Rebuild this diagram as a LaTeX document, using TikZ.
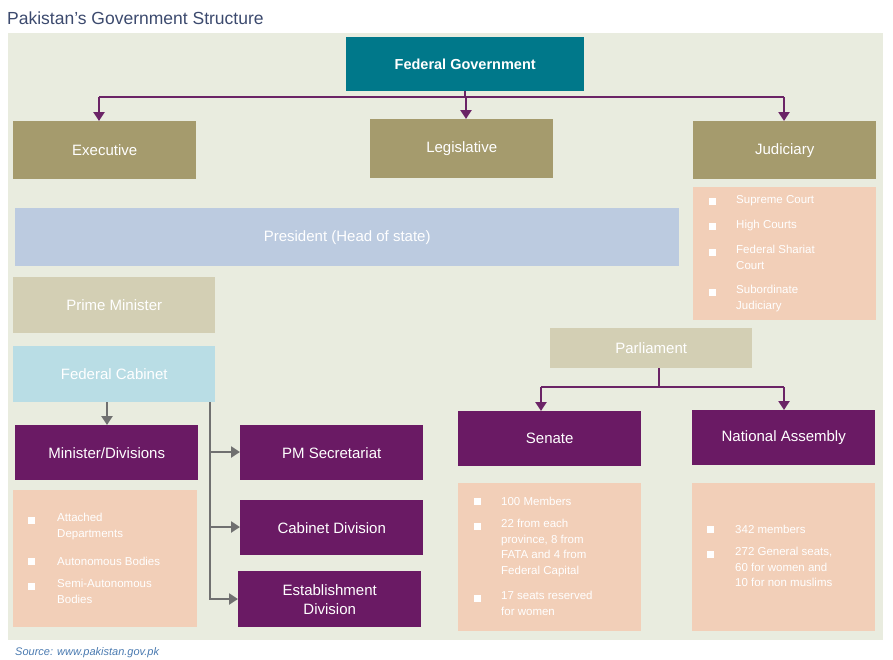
\documentclass[tikz,border=0pt]{standalone}
\usepackage{fontspec}
\setmainfont{Liberation Sans}
\usetikzlibrary{arrows.meta}
\definecolor{bg}{HTML}{E9ECDF}
\definecolor{teal}{HTML}{00788A}
\definecolor{olive}{HTML}{A59B6D}
\definecolor{peach}{HTML}{F2CFB8}
\definecolor{pres}{HTML}{BCCBE0}
\definecolor{beige}{HTML}{D3CFB4}
\definecolor{cab}{HTML}{B9DDE5}
\definecolor{purp}{HTML}{6A1A64}
\definecolor{lnp}{HTML}{6B2466}
\definecolor{lng}{HTML}{707070}
\definecolor{ttl}{HTML}{3C4A6E}
\definecolor{src}{HTML}{4A7AB0}
\tikzset{
box/.style={draw=none,anchor=north west,inner sep=0pt,text=white,font=\fontsize{15}{19}\selectfont,align=center},
list/.style={anchor=north west,inner sep=0pt,text=white,font=\fontsize{11.5}{15.5}\selectfont,align=left},
pl/.style={draw=lnp,line width=2.4pt,-{Triangle[length=9pt,width=11pt]}},
gl/.style={draw=lng,line width=2.4pt,-{Triangle[length=9pt,width=11pt]}},
bul/.style={fill=white,minimum size=7pt,inner sep=0pt},
}
\newcommand{\bx}[6]{\node[box,fill=#6,minimum width=#4-#2,minimum height=#5-#3] (#1) at (#2,#3) {};}
\begin{document}
\begin{tikzpicture}[x=1pt,y=-1pt]
\useasboundingbox (0,0) rectangle (893,659);
\fill[bg] (8,33) rectangle (883,640);
\node[anchor=west,text=ttl,font=\fontsize{17.5}{20}\selectfont,inner sep=0pt] (title) at (7,18) {Pakistan’s Government Structure};
\node[anchor=west,text=src,font=\itshape\fontsize{11}{13}\selectfont,inner sep=0pt] (source) at (15,653) {Source: www.pakistan.gov.pk};
% boxes
\bx{fg}{346}{37}{584}{91}{teal}
\node[text=white,font=\bfseries\fontsize{14.5}{17}\selectfont] at (fg.center) {Federal Government};
\bx{ex}{13}{121}{196}{179}{olive} \node[box,anchor=center] at (ex.center) {Executive};
\bx{leg}{370}{119}{553}{178}{olive} \node[box,anchor=center] at (leg.center) {Legislative};
\bx{jud}{693}{121}{876}{179}{olive} \node[box,anchor=center] at (jud.center) {Judiciary};
\bx{judl}{693}{187}{876}{320}{peach}
\bx{pres}{15}{208}{679}{266}{pres} \node[box,anchor=center] at (pres.center) {President (Head of state)};
\bx{pm}{13}{277}{215}{333}{beige} \node[box,anchor=center] at (pm.center) {Prime Minister};
\bx{fc}{13}{346}{215}{402}{cab} \node[box,anchor=center] at (fc.center) {Federal Cabinet};
\bx{md}{15}{425}{198}{480}{purp} \node[box,anchor=center] at (md.center) {Minister/Divisions};
\bx{mdl}{13}{490}{197}{627}{peach}
\bx{pms}{240}{425}{423}{480}{purp} \node[box,anchor=center] at (pms.center) {PM Secretariat};
\bx{cd}{240}{500}{423}{555}{purp} \node[box,anchor=center] at (cd.center) {Cabinet Division};
\bx{ed}{238}{571}{421}{627}{purp} \node[box,anchor=center] at (ed.center) {Establishment\\Division};
\bx{par}{550}{328}{752}{368}{beige} \node[box,anchor=center] at (par.center) {Parliament};
\bx{sen}{458}{411}{641}{466}{purp} \node[box,anchor=center] at (sen.center) {Senate};
\bx{na}{692}{410}{875}{465}{purp} \node[box,anchor=center] at (na.center) {National Assembly};
\bx{senl}{458}{483}{641}{631}{peach}
\bx{nal}{692}{483}{875}{631}{peach}
% lists
\foreach \y in {201,226,252,292} \node[bul] at (712,\y) {};
\node[list,anchor=west] at (736,201) {Supreme Court};
\node[list,anchor=west] at (736,226) {High Courts};
\node[list,anchor=north west] at (736,245) {Federal Shariat\\Court};
\node[list,anchor=north west] at (736,285) {Subordinate\\Judiciary};
\foreach \y in {520,561,586} \node[bul] at (31,\y) {};
\node[list] at (57,513) {Attached\\Departments};
\node[list,anchor=west] at (57,561) {Autonomous Bodies};
\node[list] at (57,579) {Semi-Autonomous\\Bodies};
\foreach \y in {501,526,598} \node[bul] at (477,\y) {};
\node[list,anchor=west] at (501,501) {100 Members};
\node[list] at (501,519) {22 from each\\province, 8 from\\FATA and 4 from\\Federal Capital};
\node[list] at (501,591) {17 seats reserved\\for women};
\foreach \y in {529,554} \node[bul] at (710,\y) {};
\node[list,anchor=west] at (735,529) {342 members};
\node[list] at (735,547) {272 General seats,\\60 for women and\\10 for non muslims};
% connectors
\coordinate (h1) at (465,97);
\draw[lnp,line width=2.4pt] (fg.south -| h1) -- (h1);
\draw[lnp,line width=2.4pt] (99,97) -- (784,97);
\draw[pl] (99,97) -- (99,121);
\draw[pl] (466,97) -- (466,119);
\draw[pl] (784,97) -- (784,121);
\draw[gl] (107,402) -- (107,425);
\draw[lng,line width=2.4pt] (210,402) -- (210,599);
\draw[gl] (209,452) -- (pms.west |- 0,452);
\draw[gl] (209,527) -- (cd.west |- 0,527);
\draw[gl] (209,599) -- (ed.west |- 0,599);
\draw[lnp,line width=2.4pt] (659,368) -- (659,387);
\draw[lnp,line width=2.4pt] (541,387) -- (784,387);
\draw[pl] (541,387) -- (541,411);
\draw[pl] (784,387) -- (784,410);
\end{tikzpicture}
\end{document}
